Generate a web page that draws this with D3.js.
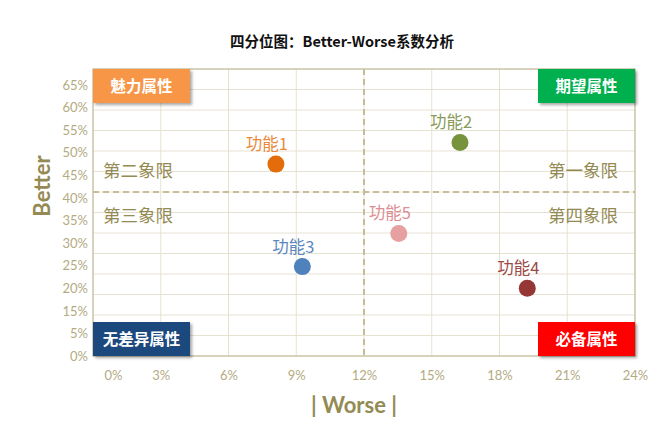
<!DOCTYPE html>
<html>
<head>
<meta charset="utf-8">
<script src="https://cdn.jsdelivr.net/npm/d3@7"></script>
<style>
  body { margin: 0; background: #fff; }
  text { font-family: "Noto Sans CJK SC", "Noto Sans", sans-serif; }
</style>
</head>
<body>
<svg id="chart" width="658" height="437"></svg>
<script>
// Data
const features = ["功能1", "功能2", "功能3", "功能4", "功能5"];
const worse    = [0.081, 0.1625, 0.0927, 0.1923, 0.1354];
const better   = [0.468, 0.521, 0.218, 0.165, 0.299];

const xTicks      = [0, 0.03, 0.06, 0.09, 0.12, 0.15, 0.18, 0.21, 0.24];
const xTickLabels = ["0%", "3%", "6%", "9%", "12%", "15%", "18%", "21%", "24%"];
const yGrid       = [0, 0.05, 0.10, 0.15, 0.20, 0.25, 0.30, 0.35, 0.40, 0.45, 0.50, 0.55, 0.60, 0.65, 0.70];
// labels as printed on the picture (10% is missing there)
const yTickLabels = ["0%", "5%", "15%", "20%", "25%", "30%", "35%", "40%", "45%", "50%", "55%", "60%", "65%"];

const worseSplit  = 0.12;
const betterSplit = 0.40;

const quadrants  = ["第一象限", "第二象限", "第三象限", "第四象限"];
const attributes = ["期望属性", "魅力属性", "无差异属性", "必备属性"];

const title = "四分位图：Better-Worse系数分析";

main = () => {
    let svg = d3.select('#chart');

    // plot area
    let left = 93, right = 635, top = 69, bottom = 356;

    let xScale = d3.scaleLinear().domain([0, 0.24]).range([left, right]);
    let yScale = d3.scaleLinear().domain([0, 0.70]).range([bottom, top]);
    let yLabelScale = d3.scalePoint().domain(yTickLabels).range([bottom, 85]);

    let color = d3.scaleOrdinal()
        .domain(features)
        .range(["#e46c0a", "#77933c", "#4f81bd", "#953735", "#e6a0a0"]);
    let labelColor = d3.scaleOrdinal()
        .domain(features)
        .range(["#e9893a", "#8a9a5b", "#5b87c0", "#9b4a48", "#dc8e94"]);

    let defs = svg.append('defs');
    let shadow = defs.append('filter').attr('id', 'shadow')
        .attr('x', '-10%').attr('y', '-10%').attr('width', '130%').attr('height', '140%');
    shadow.append('feDropShadow')
        .attr('dx', 2).attr('dy', 2).attr('stdDeviation', 1.5)
        .attr('flood-color', '#000').attr('flood-opacity', 0.35);

    // title
    svg.append('text')
        .attr('x', 342).attr('y', 47)
        .attr('text-anchor', 'middle')
        .style('font-size', '14.5px').style('font-weight', 'bold').style('fill', '#111')
        .text(title);

    /********************** GRID ********************************** */
    svg.append('g').selectAll('line')
        .data(yGrid)
        .enter().append('line')
            .attr('x1', left).attr('x2', right)
            .attr('y1', d => yScale(d)).attr('y2', d => yScale(d))
            .style('stroke', '#e6e2d2').style('stroke-width', 1);

    svg.append('g').selectAll('line')
        .data(xTicks)
        .enter().append('line')
            .attr('x1', d => xScale(d)).attr('x2', d => xScale(d))
            .attr('y1', top).attr('y2', bottom)
            .style('stroke', '#e6e2d2').style('stroke-width', 1);

    // plot border
    svg.append('rect')
        .attr('x', left).attr('y', top)
        .attr('width', right - left).attr('height', bottom - top)
        .style('fill', 'none').style('stroke', '#cdc8ad').style('stroke-width', 1.5);

    // quadrant split lines
    svg.append('line')
        .attr('x1', xScale(worseSplit)).attr('x2', xScale(worseSplit))
        .attr('y1', top).attr('y2', bottom)
        .style('stroke', '#c4bd97').style('stroke-width', 2).style('stroke-dasharray', '6,4');
    svg.append('line')
        .attr('x1', left).attr('x2', right)
        .attr('y1', yScale(betterSplit)).attr('y2', yScale(betterSplit))
        .style('stroke', '#c4bd97').style('stroke-width', 2).style('stroke-dasharray', '6,4');

    /********************** AXES ********************************** */
    let xAxis = svg.append('g')
        .attr('transform', `translate(0,${bottom})`)
        .call(d3.axisBottom(xScale).tickValues(xTicks)
            .tickFormat((d, i) => xTickLabels[i]).tickSize(0).tickPadding(15));
    xAxis.select('.domain').remove();
    xAxis.selectAll('text')
        .style('font-family', 'Lato, sans-serif').style('font-size', '13px').style('fill', '#b3ab82');
    xAxis.select('.tick text').attr('x', 20);

    let yAxis = svg.append('g')
        .attr('transform', `translate(${left},0)`)
        .call(d3.axisLeft(yLabelScale).tickSize(0).tickPadding(5));
    yAxis.select('.domain').remove();
    yAxis.selectAll('text')
        .style('font-family', 'Lato, sans-serif').style('font-size', '13px').style('fill', '#b3ab82');

    // axis titles
    svg.append('text')
        .attr('transform', `translate(50,186) rotate(-90)`)
        .attr('text-anchor', 'middle')
        .style('font-family', 'Lato, sans-serif').style('font-size', '22px')
        .style('font-weight', 'bold').style('fill', '#948a54')
        .text('Better');
    svg.append('text')
        .attr('x', 354).attr('y', 413)
        .attr('text-anchor', 'middle')
        .style('font-family', 'Lato, sans-serif').style('font-size', '22px')
        .style('font-weight', 'bold').style('fill', '#948a54')
        .text('| Worse |');

    /********************** QUADRANT LABELS ************************ */
    let ySplit = yScale(betterSplit);
    let quadPos = [
        { x: right - 17, y: ySplit - 15, anchor: 'end' },
        { x: left + 10,  y: ySplit - 15, anchor: 'start' },
        { x: left + 10,  y: ySplit + 30, anchor: 'start' },
        { x: right - 17, y: ySplit + 30, anchor: 'end' }
    ];
    svg.append('g').selectAll('text')
        .data(quadrants)
        .enter().append('text')
            .attr('x', (d, i) => quadPos[i].x)
            .attr('y', (d, i) => quadPos[i].y)
            .attr('text-anchor', (d, i) => quadPos[i].anchor)
            .style('font-size', '17.5px').style('fill', '#948a54')
            .text(d => d);

    /********************** ATTRIBUTE BOXES ************************ */
    let boxW = 97, boxH = 34;
    let boxPos = [
        { x: right - boxW, y: top },
        { x: left,         y: top },
        { x: left,         y: bottom - boxH },
        { x: right - boxW, y: bottom - boxH }
    ];
    let boxFill = ["#00b050", "#f79646", "#1f497d", "#ff0000"];
    let boxes = svg.append('g').selectAll('g')
        .data(attributes)
        .enter().append('g')
            .attr('transform', (d, i) => `translate(${boxPos[i].x},${boxPos[i].y})`);
    boxes.append('rect')
        .attr('width', boxW).attr('height', boxH)
        .attr('filter', 'url(#shadow)')
        .style('fill', (d, i) => boxFill[i]);
    boxes.append('text')
        .attr('x', boxW / 2).attr('y', boxH / 2 + 5.5)
        .attr('text-anchor', 'middle')
        .style('font-size', '15.5px').style('font-weight', 'bold').style('fill', '#fff')
        .text(d => d);

    /********************** POINTS ********************************** */
    let points = features.map((f, i) => [f, worse[i], better[i]]);

    svg.append('g').selectAll('circle')
        .data(points)
        .enter().append('circle')
            .attr('cx', d => xScale(d[1]))
            .attr('cy', d => yScale(d[2]))
            .attr('r', 8.5)
            .style('fill', d => color(d[0]));

    svg.append('g').selectAll('text')
        .data(points)
        .enter().append('text')
            .attr('x', d => xScale(d[1]) - 9)
            .attr('y', d => yScale(d[2]) - 14)
            .attr('text-anchor', 'middle')
            .style('font-size', '16.5px')
            .style('fill', d => labelColor(d[0]))
            .text(d => d[0]);
}

main();
</script>
</body>
</html>
